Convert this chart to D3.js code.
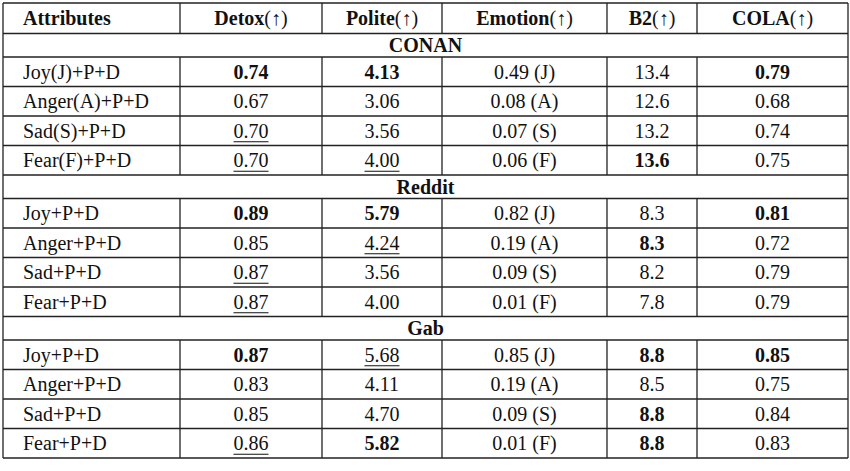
<!DOCTYPE html>
<html>
<head>
<meta charset="utf-8">
<script src="https://cdn.jsdelivr.net/npm/d3@7"></script>
<style>
body { margin: 0; background: #fff; }
text { font-family: "Liberation Serif", "DejaVu Serif", serif; font-size: 20px; fill: #111; }
</style>
</head>
<body>
<div id="table"></div>
<script>
// Table content
var headers = ["Attributes", "Detox(↑)", "Polite(↑)", "Emotion(↑)", "B2(↑)", "COLA(↑)"];
var datasets = ["CONAN", "Reddit", "Gab"];

var conanRows = [
    ["Joy(J)+P+D", "0.74", "4.13", "0.49 (J)", "13.4", "0.79"],
    ["Anger(A)+P+D", "0.67", "3.06", "0.08 (A)", "12.6", "0.68"],
    ["Sad(S)+P+D", "0.70", "3.56", "0.07 (S)", "13.2", "0.74"],
    ["Fear(F)+P+D", "0.70", "4.00", "0.06 (F)", "13.6", "0.75"]
];
var redditRows = [
    ["Joy+P+D", "0.89", "5.79", "0.82 (J)", "8.3", "0.81"],
    ["Anger+P+D", "0.85", "4.24", "0.19 (A)", "8.3", "0.72"],
    ["Sad+P+D", "0.87", "3.56", "0.09 (S)", "8.2", "0.79"],
    ["Fear+P+D", "0.87", "4.00", "0.01 (F)", "7.8", "0.79"]
];
var gabRows = [
    ["Joy+P+D", "0.87", "5.68", "0.85 (J)", "8.8", "0.85"],
    ["Anger+P+D", "0.83", "4.11", "0.19 (A)", "8.5", "0.75"],
    ["Sad+P+D", "0.85", "4.70", "0.09 (S)", "8.8", "0.84"],
    ["Fear+P+D", "0.86", "5.82", "0.01 (F)", "8.8", "0.83"]
];

// b = best (bold), u = second best (underlined)
var conanMarks = [
    ["", "b", "b", "", "", "b"],
    ["", "", "", "", "", ""],
    ["", "u", "", "", "", ""],
    ["", "u", "u", "", "b", ""]
];
var redditMarks = [
    ["", "b", "b", "", "", "b"],
    ["", "", "u", "", "b", ""],
    ["", "u", "", "", "", ""],
    ["", "u", "", "", "", ""]
];
var gabMarks = [
    ["", "b", "u", "", "b", "b"],
    ["", "", "", "", "", ""],
    ["", "", "", "", "b", ""],
    ["", "u", "b", "", "b", ""]
];

// Layout
var svgWidth = 850, svgHeight = 471;
var colEdges = [3, 180, 322, 442, 607, 697, 848];
var headerH = 30.5, sectionH = 23.5, rowH = 29.5, tableTop = 3;

var svg = d3.select("#table").append("svg")
    .attr("width", svgWidth).attr("height", svgHeight);

// Build row list
var rows = [{type: "header", cells: headers, marks: headers.map(() => "b"), h: headerH}];
[conanRows, redditRows, gabRows].forEach(function(block, i) {
    var marks = [conanMarks, redditMarks, gabMarks][i];
    rows.push({type: "section", label: datasets[i], h: sectionH});
    block.forEach(function(r, j) {
        rows.push({type: "data", cells: r, marks: marks[j], h: rowH});
    });
});
var y = tableTop;
rows.forEach(function(r) { r.y = y; y += r.h; });
var tableBottom = y;

var colCenter = function(i) { return (colEdges[i] + colEdges[i + 1]) / 2; };

// Horizontal lines
svg.selectAll("line.h")
    .data(rows.map(r => r.y).concat([tableBottom]))
    .enter().append("line")
    .attr("x1", colEdges[0]).attr("x2", colEdges[colEdges.length - 1])
    .attr("y1", d => d).attr("y2", d => d)
    .attr("stroke", "#222").attr("stroke-width", 1.3);

// Outer vertical borders
[colEdges[0], colEdges[colEdges.length - 1]].forEach(function(x) {
    svg.append("line").attr("x1", x).attr("x2", x).attr("y1", tableTop).attr("y2", tableBottom)
        .attr("stroke", "#222").attr("stroke-width", 1.3);
});

// Inner vertical lines (skip section rows)
rows.filter(r => r.type !== "section").forEach(function(r) {
    colEdges.slice(1, -1).forEach(function(x) {
        svg.append("line").attr("x1", x).attr("x2", x)
            .attr("y1", r.y).attr("y2", r.y + r.h)
            .attr("stroke", "#222").attr("stroke-width", 1.3);
    });
});

// Text
rows.forEach(function(r) {
    var cy = r.y + r.h / 2 + 7;
    if (r.type === "section") {
        svg.append("text").attr("x", (colEdges[0] + colEdges[6]) / 2).attr("y", cy)
            .attr("text-anchor", "middle").attr("font-weight", "bold").text(r.label);
        return;
    }
    r.cells.forEach(function(c, i) {
        var first = i === 0;
        var t = svg.append("text")
            .attr("x", first ? colEdges[0] + 20 : colCenter(i))
            .attr("y", cy)
            .attr("text-anchor", first ? "start" : "middle")
            .text(c);
        if (r.marks[i] === "b") t.attr("font-weight", "bold");
        if (r.marks[i] === "u") {
            var bb = t.node().getBBox();
            svg.append("line").attr("x1", bb.x).attr("x2", bb.x + bb.width)
                .attr("y1", cy + 4).attr("y2", cy + 4)
                .attr("stroke", "#111").attr("stroke-width", 1.2);
        }
    });
});

// header arrows are not bold in the original
svg.selectAll("text").filter(function() { return /↑/.test(this.textContent); })
    .each(function() {
        var s = d3.select(this), txt = s.text(), k = txt.indexOf("(");
        s.text(null);
        s.append("tspan").attr("font-weight", "bold").text(txt.slice(0, k));
        s.append("tspan").attr("font-weight", "normal").text(txt.slice(k));
    });
</script>
</body>
</html>
